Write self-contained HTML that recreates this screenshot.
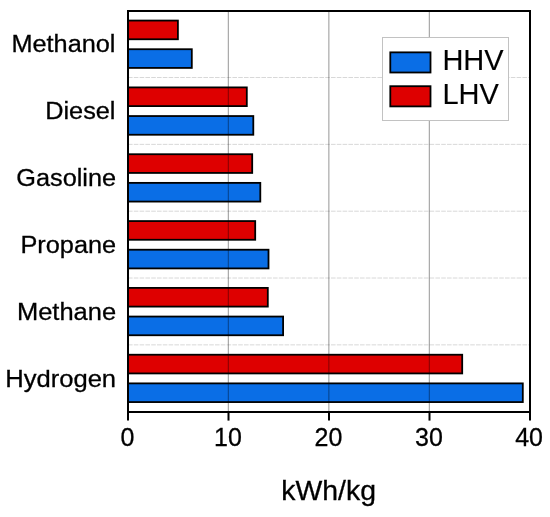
<!DOCTYPE html>
<html><head><meta charset="utf-8"><title>HHV LHV</title>
<style>html,body{margin:0;padding:0;background:#fff}svg{display:block}text{font-family:"Liberation Sans",Arial,sans-serif;fill:#000;stroke:#000;stroke-width:0.3px}</style>
</head><body>
<svg width="550" height="517" viewBox="0 0 550 517">
<rect x="0" y="0" width="550" height="517" fill="#fff"/>
<line x1="128.0" y1="77.53" x2="530.0" y2="77.53" stroke="#d8d8d8" stroke-width="1" stroke-dasharray="4.6 1.2"/>
<line x1="128.0" y1="144.37" x2="530.0" y2="144.37" stroke="#d8d8d8" stroke-width="1" stroke-dasharray="4.6 1.2"/>
<line x1="128.0" y1="211.20" x2="530.0" y2="211.20" stroke="#d8d8d8" stroke-width="1" stroke-dasharray="4.6 1.2"/>
<line x1="128.0" y1="278.03" x2="530.0" y2="278.03" stroke="#d8d8d8" stroke-width="1" stroke-dasharray="4.6 1.2"/>
<line x1="128.0" y1="344.87" x2="530.0" y2="344.87" stroke="#d8d8d8" stroke-width="1" stroke-dasharray="4.6 1.2"/>
<rect x="128.0" y="20.57" width="49.90" height="18.70" fill="#de0000" stroke="#000" stroke-width="1.8"/>
<rect x="128.0" y="49.22" width="63.80" height="18.70" fill="#0a6ee6" stroke="#000" stroke-width="1.8"/>
<rect x="128.0" y="87.40" width="118.80" height="18.70" fill="#de0000" stroke="#000" stroke-width="1.8"/>
<rect x="128.0" y="116.05" width="125.30" height="18.70" fill="#0a6ee6" stroke="#000" stroke-width="1.8"/>
<rect x="128.0" y="154.23" width="124.20" height="18.70" fill="#de0000" stroke="#000" stroke-width="1.8"/>
<rect x="128.0" y="182.88" width="132.30" height="18.70" fill="#0a6ee6" stroke="#000" stroke-width="1.8"/>
<rect x="128.0" y="221.07" width="127.20" height="18.70" fill="#de0000" stroke="#000" stroke-width="1.8"/>
<rect x="128.0" y="249.72" width="140.50" height="18.70" fill="#0a6ee6" stroke="#000" stroke-width="1.8"/>
<rect x="128.0" y="287.90" width="139.80" height="18.70" fill="#de0000" stroke="#000" stroke-width="1.8"/>
<rect x="128.0" y="316.55" width="155.10" height="18.70" fill="#0a6ee6" stroke="#000" stroke-width="1.8"/>
<rect x="128.0" y="354.73" width="334.20" height="18.70" fill="#de0000" stroke="#000" stroke-width="1.8"/>
<rect x="128.0" y="383.38" width="394.80" height="18.70" fill="#0a6ee6" stroke="#000" stroke-width="1.8"/>
<line x1="228.35" y1="11.0" x2="228.35" y2="412.0" stroke="#000" stroke-opacity="0.36" stroke-width="1.15"/>
<line x1="328.85" y1="11.0" x2="328.85" y2="412.0" stroke="#000" stroke-opacity="0.36" stroke-width="1.15"/>
<line x1="429.35" y1="11.0" x2="429.35" y2="412.0" stroke="#000" stroke-opacity="0.36" stroke-width="1.15"/>
<rect x="382.5" y="37.5" width="126" height="83" fill="#fff" stroke="#c2c2c2" stroke-width="1"/>
<rect x="390.3" y="52.35" width="40.2" height="20.15" fill="#0a6ee6" stroke="#000" stroke-width="1.8"/>
<rect x="390.3" y="86.2" width="40.2" height="20.2" fill="#de0000" stroke="#000" stroke-width="1.8"/>
<text transform="translate(442.40 70.20) scale(1 1.01)" font-size="29.0" style="stroke-width:0.12px">HHV</text>
<text transform="translate(442.40 103.90) scale(1 1.01)" font-size="29.0" style="stroke-width:0.12px">LHV</text>
<rect x="128.0" y="11.0" width="402.0" height="401.0" fill="none" stroke="#000" stroke-width="2"/>
<line x1="128.00" y1="412.0" x2="128.00" y2="420.6" stroke="#000" stroke-width="2"/>
<text transform="translate(127.50 446.35) scale(1 1.01)" font-size="25.0" text-anchor="middle">0</text>
<line x1="228.50" y1="412.0" x2="228.50" y2="420.6" stroke="#000" stroke-width="2"/>
<text transform="translate(228.00 446.35) scale(1 1.01)" font-size="25.0" text-anchor="middle">10</text>
<line x1="329.00" y1="412.0" x2="329.00" y2="420.6" stroke="#000" stroke-width="2"/>
<text transform="translate(328.50 446.35) scale(1 1.01)" font-size="25.0" text-anchor="middle">20</text>
<line x1="429.50" y1="412.0" x2="429.50" y2="420.6" stroke="#000" stroke-width="2"/>
<text transform="translate(429.00 446.35) scale(1 1.01)" font-size="25.0" text-anchor="middle">30</text>
<line x1="530.00" y1="412.0" x2="530.00" y2="420.6" stroke="#000" stroke-width="2"/>
<text transform="translate(529.10 446.35) scale(1 1.01)" font-size="25.0" text-anchor="middle">40</text>
<text transform="translate(115.50 52.12) scale(1 0.965)" font-size="25.3" text-anchor="end">Methanol</text>
<text transform="translate(115.50 118.95) scale(1 0.965)" font-size="25.3" text-anchor="end">Diesel</text>
<text transform="translate(116.10 185.78) scale(1 0.965)" font-size="25.3" text-anchor="end">Gasoline</text>
<text transform="translate(116.10 252.62) scale(1 0.965)" font-size="25.3" text-anchor="end">Propane</text>
<text transform="translate(116.10 320.15) scale(1 0.965)" font-size="25.5" text-anchor="end">Methane</text>
<text transform="translate(116.10 386.98) scale(1 0.965)" font-size="25.6" text-anchor="end">Hydrogen</text>
<text transform="translate(328.60 500.30) scale(1 1.0)" font-size="28.4" text-anchor="middle">kWh/kg</text>
</svg>
</body></html>
